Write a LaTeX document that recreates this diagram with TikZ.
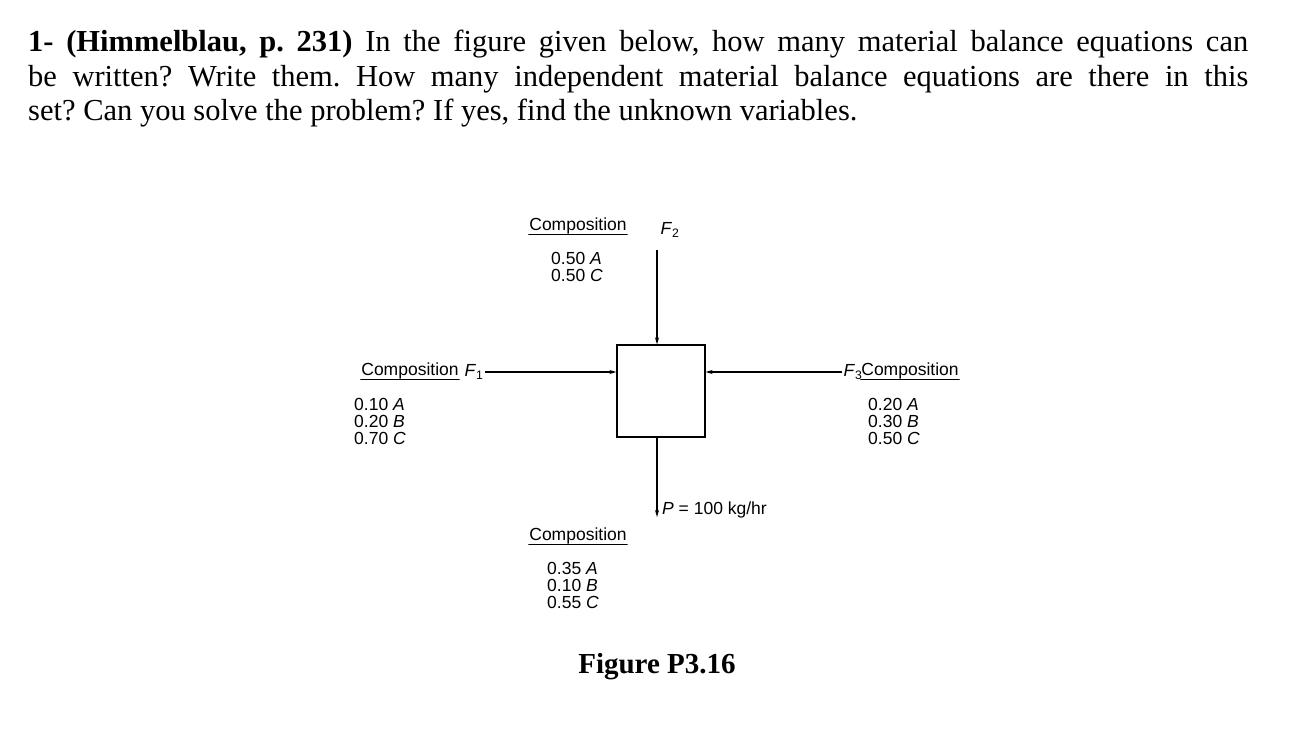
\documentclass[tikz,border=0pt]{standalone}
\usepackage{fontspec}
\setmainfont{Liberation Serif}
\newfontfamily\diagfont{Liberation Sans}
\usetikzlibrary{arrows.meta}
\newcommand{\FF}[1]{\textit{F}\textsubscript{#1}}
\begin{document}
\frenchspacing
\begin{tikzpicture}[x=1pt,y=-1pt,
  lbl/.style={font=\diagfont\fontsize{17.5}{17}\selectfont,inner sep=1pt},
  comp/.style={lbl,text depth=4pt,path picture={\draw[line width=1pt] ([yshift=1pt]path picture bounding box.south west)--([yshift=1pt]path picture bounding box.south east);}},
  vals/.style={lbl,align=left,anchor=north west},
  flow/.style={line width=1.2pt,-{Stealth[length=7pt,width=4pt]}},
  title/.style={font=\fontsize{30.5}{34.5}\selectfont,anchor=north west,align=justify,text width=1220pt,inner sep=0pt}]
\useasboundingbox (0,0) rectangle (1308,750);
\node[title] (t) at (28,30) {\textbf{1- (Himmelblau, p. 231)} In the figure given below, how many material balance equations can\linebreak be written? Write them. How many independent material balance equations are there in this\linebreak set? Can you solve the problem? If yes, find the unknown variables.};
\node[draw,line width=1.2pt,minimum width=88pt,minimum height=92pt,inner sep=0pt] (box) at (661,391) {};
\node[comp] (c2) at (578,226) {Composition};
\node[lbl] (f2) at (670,230) {\FF{2}};
\node[vals] (v2) at (550,251) {0.50 \textit{A}\\0.50 \textit{C}};
\node[comp] (c1) at (410,371) {Composition};
\node[lbl] (f1) at (474,372) {\FF{1}};
\node[vals] (v1) at (353,397) {0.10 \textit{A}\\0.20 \textit{B}\\0.70 \textit{C}};
\node[lbl] (f3) at (853,372) {\FF{3}};
\node[comp] (c3) at (910,371) {Composition};
\node[vals] (v3) at (867,397) {0.20 \textit{A}\\0.30 \textit{B}\\0.50 \textit{C}};
\node[lbl,anchor=west] (p) at (661,510) {\textit{P} = 100 kg/hr};
\node[comp] (c4) at (578,536) {Composition};
\node[vals] (v4) at (546,561) {0.35 \textit{A}\\0.10 \textit{B}\\0.55 \textit{C}};
\node[font=\bfseries\fontsize{29}{30}\selectfont] (fig) at (657,667) {Figure P3.16};
\coordinate (top) at (657,250);
\coordinate (bot) at (657,517);
\draw[flow] (top) -- (box.north -| top);
\draw[flow] (f1.east) -- (box.west |- f1);
\draw[flow] (f3.west) -- (box.east |- f3);
\draw[flow] (box.south -| bot) -- (bot);
\end{tikzpicture}
\end{document}
